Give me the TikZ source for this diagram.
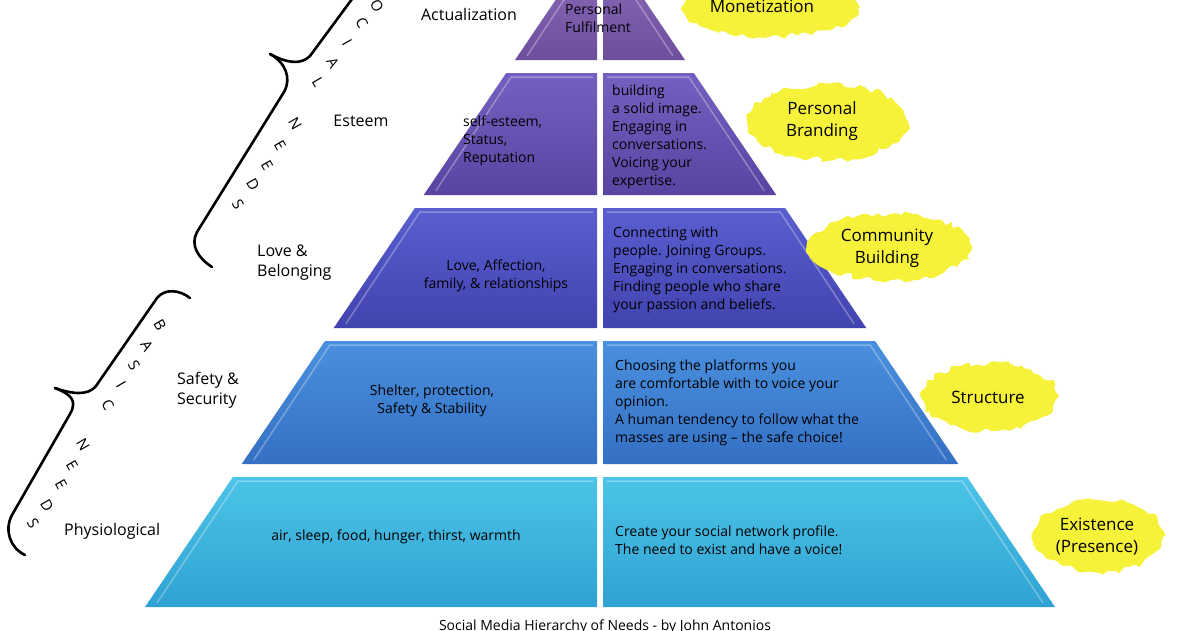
\documentclass[tikz,border=0pt]{standalone}
\usepackage{fontspec}
\setmainfont{Open Sans}
\usetikzlibrary{decorations.pathmorphing}
\definecolor{blob}{HTML}{F6F23A}
\definecolor{c1t}{HTML}{8A6CB8}\definecolor{c1b}{HTML}{6D4E9E}
\definecolor{c2t}{HTML}{7460C0}\definecolor{c2b}{HTML}{5A44A2}
\definecolor{c3t}{HTML}{5A5ED0}\definecolor{c3b}{HTML}{4143AE}
\definecolor{c4t}{HTML}{4A90DE}\definecolor{c4b}{HTML}{3470C4}
\definecolor{c5t}{HTML}{4CC4E8}\definecolor{c5b}{HTML}{2FA2D2}
\tikzset{
  lbl/.style={font=\fontsize{16}{20}\selectfont, align=left, inner sep=0pt},
  txt/.style={font=\fontsize{14}{18}\selectfont, align=left, inner sep=0pt},
  txtc/.style={font=\fontsize{14}{18}\selectfont, align=center, inner sep=0pt},
  blobfill/.style={fill=blob, decorate, decoration={random steps,segment length=5pt,amplitude=3.5pt}, rounded corners=2pt},
  blobtxt/.style={font=\fontsize{17}{22}\selectfont, align=center, inner sep=0pt},
  brace/.style={line width=2.6pt, line cap=round},
  ltr/.style={font=\fontsize{15}{15}\selectfont, inner sep=0pt},
}
\newcommand\pyrlevel[4]{%
  \pgfmathsetmacro\lt{600-85-0.6764*(#1-60)}%
  \pgfmathsetmacro\lb{600-85-0.6764*(#2-60)}%
  \pgfmathsetmacro\rt{600+85+0.6764*(#1-60)}%
  \pgfmathsetmacro\rb{600+85+0.6764*(#2-60)}%
  \shade[top color=#3, bottom color=#4] (\lt,#1) -- (597,#1) -- (597,#2) -- (\lb,#2) -- cycle;
  \shade[top color=#3, bottom color=#4] (603,#1) -- (\rt,#1) -- (\rb,#2) -- (603,#2) -- cycle;
  \draw[white, opacity=0.3, line width=1.5pt] (\lb+12,#2-4) -- (\lt+5,#1+4) -- (593,#1+4);
  \draw[white, opacity=0.3, line width=1.5pt] (607,#1+4) -- (\rt-5,#1+4) -- (\rb-12,#2-4);
}
\begin{document}
\begin{tikzpicture}[x=1pt,y=-1pt]
\useasboundingbox (0,0) rectangle (1200,630);
\clip (0,0) rectangle (1200,630);
\fill[white] (0,0) rectangle (1200,630);
% pyramid
\pyrlevel{-40}{60}{c1t}{c1b}
\pyrlevel{73}{195}{c2t}{c2b}
\pyrlevel{208}{328}{c3t}{c3b}
\pyrlevel{341}{464}{c4t}{c4b}
\pyrlevel{477}{607}{c5t}{c5b}
% yellow blobs
\fill[blobfill] (770,8) ellipse [x radius=88, y radius=28];
\fill[blobfill] (828,122) ellipse [x radius=80, y radius=38];
\fill[blobfill] (890,247) ellipse [x radius=82, y radius=33];
\fill[blobfill] (990,397) ellipse [x radius=68, y radius=34];
\fill[blobfill] (1098,536) ellipse [x radius=66, y radius=36];
\node[blobtxt] (b1) at (762,6) {Monetization};
\node[blobtxt] (b2) at (822,121) {Personal\\Branding};
\node[blobtxt] (b3) at (887,248) {Community\\Building};
\node[blobtxt] (b4) at (988,397) {Structure};
\node[blobtxt] (b5) at (1097,537) {Existence\\(Presence)};
% level labels
\node[lbl, anchor=center] (l1) at (469,14) {Actualization};
\node[lbl, anchor=center] (l2) at (361,121) {Esteem};
\node[lbl, anchor=west] (l3) at (257,263) {Love \&\\Belonging};
\node[lbl, anchor=west] (l4) at (177,390) {Safety \&\\Security};
\node[lbl, anchor=west] (l5) at (64,531) {Physiological};
% inner texts
\node[txt, anchor=west] (t1) at (565,18) {Personal\\Fulfilment};
\node[txt, anchor=west] (t2l) at (463,141) {self-esteem,\\Status,\\Reputation};
\node[txt, anchor=west] (t2r) at (612,137) {building\\a solid image.\\Engaging in\\conversations.\\Voicing your\\expertise.};
\node[txtc] (t3l) at (496,276) {Love, Affection,\\family, \& relationships};
\node[txt, anchor=west] (t3r) at (613,270) {Connecting with\\people. Joining Groups.\\Engaging in conversations.\\Finding people who share\\your passion and beliefs.};
\node[txtc] (t4l) at (432,401) {Shelter, protection,\\Safety \& Stability};
\node[txt, anchor=west] (t4r) at (615,403) {Choosing the platforms you\\are comfortable with to voice your\\opinion.\\A human tendency to follow what the\\masses are using -- the safe choice!};
\node[txtc] (t5l) at (396,537) {air, sleep, food, hunger, thirst, warmth};
\node[txt, anchor=west] (t5r) at (615,540) {Create your social network profile.\\The need to exist and have a voice!};
\node[font=\fontsize{14}{16}\selectfont, inner sep=0pt] (cap) at (605,627) {Social Media Hierarchy of Needs - by John Antonios};
% social needs brace
\draw[brace] (212,267) .. controls (198,258) and (190,245) .. (197,232)
  -- (284,92) .. controls (292,78) and (285,62) .. (270,54);
\draw[brace] (270,54) .. controls (285,62) and (300,66) .. (310,56) -- (355,-5);
\foreach \l/\x/\y in {O/377/6,C/362/23,I/347/43,A/333/63,L/318/82,N/295/124,E/280/145,E/267/165,D/253/185,S/238/204}
  \node[ltr, rotate=-60] at (\x,\y) {\l};
% basic needs brace
\draw[brace] (190,298) .. controls (180,290) and (165,288) .. (157,298)
  -- (96,386) .. controls (88,396) and (72,394) .. (55,388);
\draw[brace] (55,388) .. controls (70,394) and (78,400) .. (70,414)
  -- (12,515) .. controls (4,530) and (10,548) .. (25,555);
\foreach \l/\x/\y in {B/160/325,A/147/346,S/134/365,I/121/385,C/108/405,N/83/445,E/72/465,E/61/484,D/47/506,S/33/523}
  \node[ltr, rotate=-60] at (\x,\y) {\l};
\end{tikzpicture}
\end{document}
